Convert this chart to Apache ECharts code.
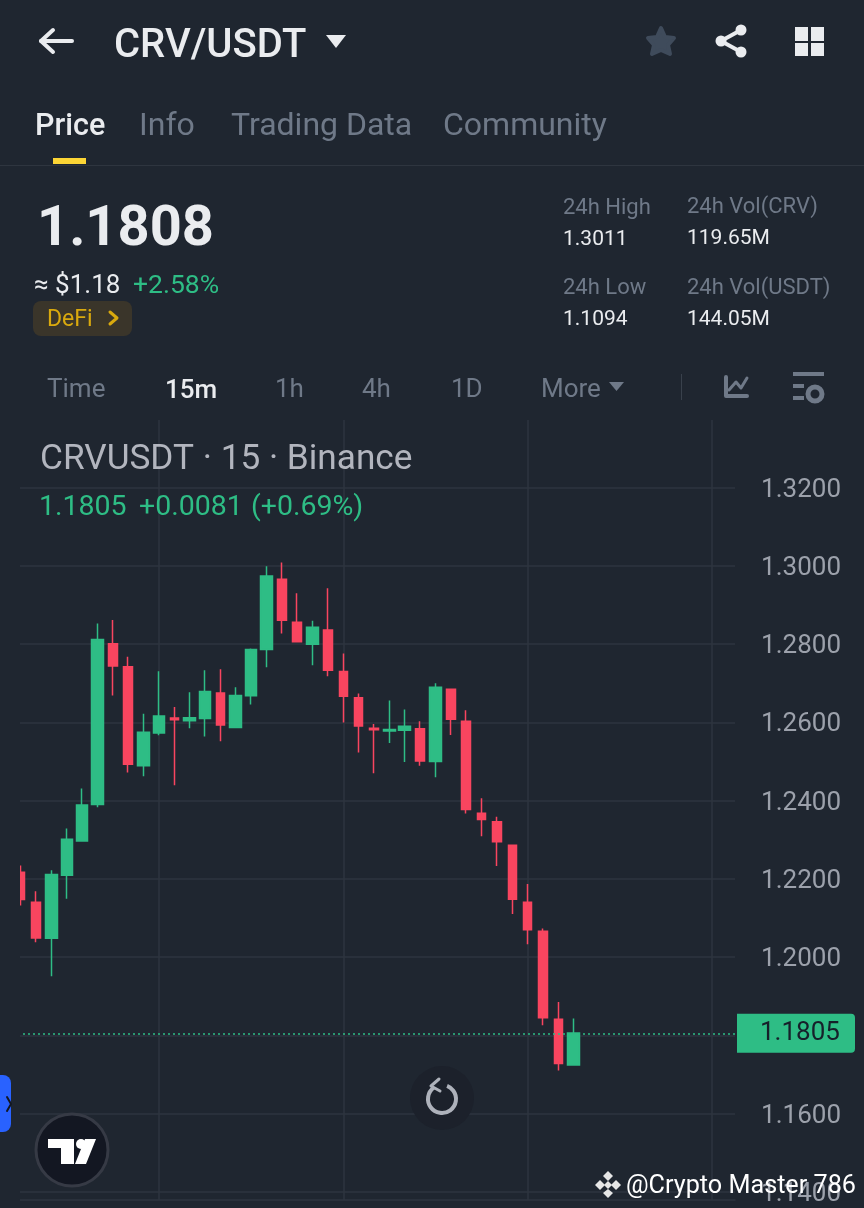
<!DOCTYPE html>
<html>
<head>
<meta charset="utf-8">
<title>CRV/USDT</title>
<style>
html, body { margin: 0; padding: 0; background: #1f2630; }
#main { width: 864px; height: 1208px; }
</style>
<script src="https://cdn.jsdelivr.net/npm/echarts@6/dist/echarts.min.js"></script>
</head>
<body>
<div id="main"></div>
<script>
// candle values, oldest first
var opens  = [1.2217, 1.2140, 1.2048, 1.2209, 1.2297, 1.2390, 1.2801, 1.2742, 1.2489, 1.2573, 1.2611, 1.2604, 1.2610, 1.2675, 1.2587, 1.2668, 1.2786, 1.2966, 1.2856, 1.2800, 1.2836, 1.2730, 1.2663, 1.2585, 1.2578, 1.2580, 1.2584, 1.2500, 1.2685, 1.2603, 1.2368, 1.2346, 1.2286, 1.2140, 1.2066, 1.1841, 1.1724];
var closes = [1.2147, 1.2049, 1.2211, 1.2301, 1.2389, 1.2812, 1.2744, 1.2493, 1.2575, 1.2616, 1.2607, 1.2612, 1.2679, 1.2593, 1.2669, 1.2786, 1.2974, 1.2861, 1.2806, 1.2843, 1.2733, 1.2667, 1.2591, 1.2581, 1.2582, 1.2590, 1.2501, 1.2690, 1.2608, 1.2377, 1.2352, 1.2295, 1.2148, 1.2070, 1.1845, 1.1728, 1.1806];
var lows   = [1.2132, 1.2038, 1.1951, 1.2149, 1.2297, 1.2383, 1.2669, 1.2472, 1.2462, 1.2567, 1.2439, 1.2585, 1.2564, 1.2552, 1.2585, 1.2646, 1.2741, 1.2827, 1.2806, 1.2746, 1.2718, 1.2600, 1.2523, 1.2470, 1.2547, 1.2499, 1.2489, 1.2460, 1.2568, 1.2367, 1.2309, 1.2233, 1.2110, 1.2033, 1.1826, 1.1710, 1.1724];
var highs  = [1.2234, 1.2168, 1.2222, 1.2329, 1.2431, 1.2853, 1.2862, 1.2768, 1.2622, 1.2731, 1.2639, 1.2677, 1.2733, 1.2736, 1.2690, 1.2789, 1.2999, 1.3009, 1.2930, 1.2860, 1.2943, 1.2776, 1.2674, 1.2596, 1.2656, 1.2633, 1.2603, 1.2700, 1.2685, 1.2631, 1.2406, 1.2359, 1.2286, 1.2187, 1.2073, 1.1885, 1.1843];
var emptyBars = 10;
var priceTicks = [1.14, 1.16, 1.18, 1.20, 1.22, 1.24, 1.26, 1.28, 1.30, 1.32];
var lastPrice = 1.1805;

var UP = '#2ebd85';
var DOWN = '#f9455f';
var BG = '#1f2630';
var GRID = '#2e353f';
var WHITE = '#eaecef';
var MUTED = '#6f7988';
var AXIS_TEXT = '#9ca1ab';

var categories = [];
var upData = [];
var downData = [];
for (var i = 0; i < opens.length + emptyBars; i++) {
    categories.push(String(i));
    if (i >= opens.length) {
        upData.push('-');
        downData.push('-');
        continue;
    }
    var row = [opens[i], closes[i], lows[i], highs[i]];
    upData.push(closes[i] >= opens[i] ? row : '-');
    downData.push(closes[i] >= opens[i] ? '-' : row);
}

// y is the visual middle of the digits, the font's own middle sits a bit higher
function text(str, x, y, size, color, weight, family) {
    return {
        type: 'text', z: 60, silent: true,
        style: {
            text: str, x: x, y: y + size * 0.1, fill: color,
            font: (weight || 400) + ' ' + size + 'px ' + (family || 'Roboto'),
            textAlign: 'left', textVerticalAlign: 'middle'
        }
    };
}

function poly(points, fill) {
    return { type: 'polygon', z: 60, silent: true, shape: { points: points }, style: { fill: fill } };
}

function rect(x, y, w, h, fill, r, z) {
    return { type: 'rect', z: z || 60, silent: true, shape: { x: x, y: y, width: w, height: h, r: r || 0 }, style: { fill: fill } };
}

function line(points, color, width) {
    return {
        type: 'polyline', z: 60, silent: true, shape: { points: points },
        style: { stroke: color, lineWidth: width, fill: null, lineCap: 'round', lineJoin: 'round' }
    };
}

function circle(cx, cy, r, fill, stroke, width) {
    return {
        type: 'circle', z: 60, silent: true, shape: { cx: cx, cy: cy, r: r },
        style: { fill: fill, stroke: stroke || null, lineWidth: width || 0 }
    };
}

var overlay = [
    // hides the part of the grid left of the first full candle
    rect(0, 420, 20, 788, BG, 0, 50),

    // header
    line([[72, 41], [41, 41]], WHITE, 4),
    line([[53, 30], [41, 41], [53, 52]], WHITE, 4),
    text('CRV/USDT', 114, 43, 40, WHITE, 500),
    poly([[326, 35], [346, 35], [336, 48]], WHITE),
    {
        type: 'polygon', z: 60, silent: true,
        shape: { points: [[661, 28], [665, 37], [674, 38], [668, 45], [670, 54], [661, 50], [652, 54], [654, 45], [648, 38], [657, 37]] },
        style: { fill: '#3f4b5b', stroke: '#3f4b5b', lineWidth: 4, lineJoin: 'round' }
    },
    line([[741, 30], [721, 41], [741, 52]], WHITE, 4),
    circle(741, 30, 5.5, WHITE),
    circle(721, 41, 5.5, WHITE),
    circle(741, 52, 5.5, WHITE),
    rect(795, 27, 13, 14, WHITE),
    rect(811, 27, 13, 14, WHITE),
    rect(795, 43, 13, 13, WHITE),
    rect(811, 43, 13, 13, WHITE),

    // tabs
    text('Price', 35, 124, 30.5, WHITE, 500),
    text('Info', 139, 124, 32, MUTED),
    text('Trading Data', 231, 124, 32, MUTED),
    text('Community', 443, 124, 32, MUTED),
    rect(53, 158, 33, 6, '#fcd535'),
    rect(0, 165, 864, 1, GRID),

    // price block
    text('1.1808', 37, 225, 56, WHITE, 700),
    text('\u2248 $1.18', 34, 284, 26, WHITE),
    text('+2.58%', 133, 284, 26.5, UP),
    rect(33, 301, 99, 35, '#3a352a', 8),
    text('DeFi', 47, 318, 23, '#d9a90e'),
    line([[110, 312], [117, 318], [110, 324]], '#d9a90e', 3),

    // 24h stats
    text('24h High', 563, 206, 22, MUTED),
    text('1.3011', 563, 238, 21, WHITE),
    text('24h Vol(CRV)', 687, 205, 22, MUTED),
    text('119.65M', 687, 237, 21, WHITE),
    text('24h Low', 563, 286, 22, MUTED),
    text('1.1094', 563, 318, 21, WHITE),
    text('24h Vol(USDT)', 687, 286, 22, MUTED),
    text('144.05M', 687, 318, 21, WHITE),

    // interval row
    text('Time', 47, 388, 26, MUTED),
    text('15m', 165, 389, 26, WHITE, 500),
    text('1h', 275, 388, 26, MUTED),
    text('4h', 362, 388, 26, MUTED),
    text('1D', 451, 388, 26, MUTED),
    text('More', 541, 388, 26, MUTED),
    poly([[609, 382], [624, 382], [616.5, 391]], MUTED),
    rect(681, 374, 1, 26, '#39414c'),
    line([[726, 377], [726, 396], [747, 396]], MUTED, 4),
    line([[729, 390], [736, 382], [741, 388], [747, 378]], MUTED, 3),
    rect(793, 372, 31, 4, MUTED),
    rect(793, 384, 11, 4, MUTED),
    rect(793, 396, 11, 4, MUTED),
    circle(815, 394, 7, BG, MUTED, 5),

    // chart legend
    text('CRVUSDT \u00b7 15 \u00b7 Binance', 40, 457, 35.2, '#b2b5be'),
    text('1.1805', 39, 505, 28.5, UP),
    text('+0.0081', 139, 505, 28.5, UP),
    text('(+0.69%)', 251, 505, 28.5, UP),

    // replay button
    circle(442, 1098, 32, '#1c212b'),
    {
        type: 'arc', z: 61, silent: true,
        shape: { cx: 442, cy: 1099, r: 14, startAngle: -2.2, endAngle: -1.2, clockwise: false },
        style: { stroke: '#aeb2bb', lineWidth: 4, fill: null }
    },
    line([[439, 1079], [431, 1086], [440, 1091]], '#aeb2bb', 3),

    // tradingview badge
    circle(72, 1150, 36, '#131722', '#363a45', 3),
    poly([[48, 1139], [74, 1139], [74, 1164], [61, 1164], [61, 1148], [48, 1148]], '#ffffff'),
    circle(81, 1144, 5, '#ffffff'),
    poly([[85, 1139], [96, 1139], [86, 1164], [75, 1164]], '#ffffff'),

    // side tab
    rect(0, 1075, 11, 57, '#2962ff', [0, 8, 8, 0]),
    line([[7, 1097], [11, 1104], [7, 1111]], '#131722', 2),

    // watermark
    poly([[608, 1171], [613, 1176], [608, 1181], [603, 1176]], '#e6e6e6'),
    poly([[600, 1180], [605, 1185], [600, 1190], [595, 1185]], '#e6e6e6'),
    poly([[616, 1180], [621, 1185], [616, 1190], [611, 1185]], '#e6e6e6'),
    poly([[608, 1181], [612, 1185], [608, 1189], [604, 1185]], '#e6e6e6'),
    poly([[608, 1189], [613, 1193], [608, 1198], [603, 1193]], '#e6e6e6'),
    text('@Crypto Master 786', 626, 1184, 25.2, '#ffffff')
];

function candleSeries(name, data, color, width) {
    return {
        name: name,
        type: 'candlestick',
        data: data,
        barWidth: width,
        silent: true,
        itemStyle: { color: color, color0: color, borderColor: color, borderColor0: color, borderWidth: 1.5 }
    };
}

// the last price line sits on its own empty series
var priceSeries = {
    name: 'last',
    type: 'line',
    data: [],
    silent: true,
    markLine: {
        silent: true,
        symbol: 'none',
        precision: 4,
        lineStyle: { color: UP, type: [2, 3], width: 1.5 },
        label: {
            position: 'end', distance: 2,
            formatter: lastPrice.toFixed(4),
            backgroundColor: UP, color: '#16202a',
            fontFamily: 'Roboto', fontSize: 26,
            width: 95, height: 39, lineHeight: 43,
            padding: [0, 0, 0, 23],
            borderRadius: [0, 4, 4, 0]
        },
        data: [{ yAxis: lastPrice }]
    }
};

var chart = echarts.init(document.getElementById('main'));
chart.setOption({
    backgroundColor: BG,
    animation: false,
    grid: { left: 13, top: 420, width: 722, height: 780, containLabel: false },
    xAxis: {
        type: 'category',
        data: categories,
        boundaryGap: true,
        axisLine: { lineStyle: { color: GRID, width: 1.5 } },
        axisTick: { show: false },
        axisLabel: { show: false },
        splitLine: {
            show: true,
            alignWithLabel: true,
            interval: function(index) { return index % 12 === 9; },
            lineStyle: { color: GRID, width: 1.5 }
        }
    },
    yAxis: {
        type: 'value',
        position: 'right',
        min: 1.1379,
        max: 1.3373,
        axisLine: { show: false },
        axisTick: { show: false, customValues: priceTicks },
        axisLabel: {
            customValues: priceTicks,
            formatter: function(v) { return v.toFixed(4); },
            color: AXIS_TEXT, fontFamily: 'Roboto', fontSize: 26,
            align: 'right', margin: 106,
            verticalAlign: 'top', lineHeight: 5
        },
        splitLine: { show: true, lineStyle: { color: GRID, width: 1.5 } }
    },
    series: [candleSeries('up', upData, UP, 12), candleSeries('down', downData, DOWN, 9), priceSeries],
    graphic: { elements: overlay }
});
</script>
</body>
</html>
